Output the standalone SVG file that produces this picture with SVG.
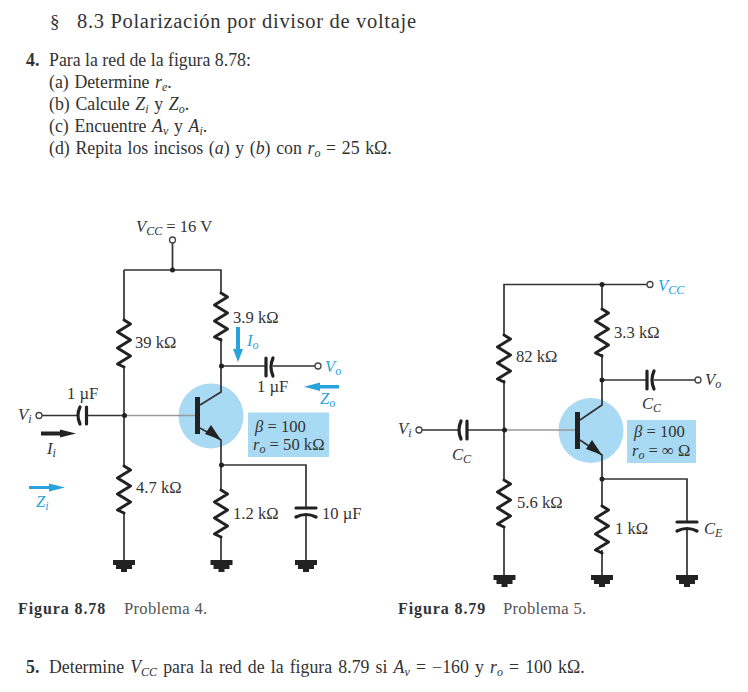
<svg xmlns="http://www.w3.org/2000/svg" xmlns:xlink="http://www.w3.org/1999/xlink" width="748" height="692" viewBox="0 0 748 692">
<style>
text{font-family:"Liberation Serif","Times New Roman",serif;font-size:17.8px;fill:#333}
.l{font-size:16.600px;fill:#333}
.m{word-spacing:1.2px}
.i{font-style:italic}
.b{font-weight:bold}
.c{fill:#29a3dc}
.s{font-size:12px}
.w{fill:none;stroke:#333;stroke-width:1.7}
.g{fill:none;stroke:#999;stroke-width:1.7}
.r{fill:none;stroke:#222;stroke-width:3;stroke-linejoin:round;stroke-linecap:round}
.p{fill:none;stroke:#222;stroke-width:3.200;stroke-linecap:round}
.d{fill:#222}
.t{fill:#fff;stroke:#444;stroke-width:1.3}
.h{fill:#a8daf4}
.ba{fill:#222}
.ca{fill:#29a3dc}
.f{font-size:16px;letter-spacing:.9px}
.k{font-size:16.600px;letter-spacing:.3px;fill:#555}
</style>
<defs>
<path id="res" class="r" d="M0 0l6.500 4-13 8 13 8-13 8 13 8-13 8 6.500 3"/>
<path id="gnd" class="d" d="M-11 0h22v5h-3v4h-5v3h-6v-3h-5v-4h-3z"/>
</defs>
<rect width="748" height="692" fill="#fff"/>

<g id="header">
<text x="50" y="28" style="font-size:19px">§</text>
<text x="77" y="28" style="font-size:20.500px" textLength="339">8.3 Polarización por divisor de voltaje</text>
<text x="26" y="66" class="b">4.</text>
<text x="49" y="66">Para la red de la figura 8.78:</text>
<text x="49" y="88" class="m">(a) Determine <tspan class="i">r<tspan class="s" dy="3">e</tspan></tspan><tspan dy="-3">.</tspan></text>
<text x="49" y="110" class="m">(b) Calcule <tspan class="i">Z<tspan class="s" dy="3">i</tspan></tspan><tspan dy="-3"> y </tspan><tspan class="i">Z<tspan class="s" dy="3">o</tspan></tspan><tspan dy="-3">.</tspan></text>
<text x="49" y="132" class="m">(c) Encuentre <tspan class="i">A<tspan class="s" dy="3">v</tspan></tspan><tspan dy="-3"> y </tspan><tspan class="i">A<tspan class="s" dy="3">i</tspan></tspan><tspan dy="-3">.</tspan></text>
<text x="49" y="154" class="m">(d) Repita los incisos (<tspan class="i">a</tspan>) y (<tspan class="i">b</tspan>) con <tspan class="i">r<tspan class="s" dy="3">o</tspan></tspan><tspan dy="-3"> = 25 kΩ.</tspan></text>
</g>

<g id="fig78-highlight">
<circle class="h" cx="211" cy="416" r="32.500"/>
<rect class="h" x="248" y="412.500" width="81" height="44.500"/>
</g>

<g id="connectors-78">
<path class="w" d="M172.500 243V270M124 270H221V292M124 270V319M124 366V465M124 512V560M221 338V392L200 405M200 428L221 440V489M221 536V560M221 465H306V508M306 516V560M221.500 366H265M273 366H315M42 415.500H78M87 415.500H124"/>
<path class="g" d="M124 415.500H195"/>
</g>

<g id="fig78-transistor">
<rect class="d" x="195" y="397" width="5" height="37"/>
<path class="d" d="M221 440L205 434 211 425z"/>
</g>

<g id="fig78-r39k"><use xlink:href="#res" href="#res" x="124" y="320"/><text class="l" x="135" y="348">39 kΩ</text></g>
<g id="fig78-r3k9"><use xlink:href="#res" href="#res" x="221" y="293"/><text class="l" x="233" y="323">3.9 kΩ</text></g>
<g id="fig78-r4k7"><use xlink:href="#res" href="#res" x="124" y="466"/><text class="l" x="136" y="493">4.7 kΩ</text></g>
<g id="fig78-r1k2"><use xlink:href="#res" href="#res" x="221" y="490"/><text class="l" x="233" y="519">1.2 kΩ</text></g>

<g id="fig78-c1">
<path class="p" d="M86.500 407V424M80 407Q76 415.500 80 424"/>
<text class="l" x="67" y="399">1 µF</text>
</g>
<g id="fig78-c2">
<path class="p" d="M266 358V376M273 358Q269 367 273 376"/>
<text class="l" x="257" y="392">1 µF</text>
</g>
<g id="fig78-c3">
<path class="p" d="M296 508H316M296 517Q306 512 316 517"/>
<text class="l" x="322" y="519">10 µF</text>
</g>

<g id="fig78-vcc">
<circle class="t" cx="172.500" cy="240" r="3"/>
<circle class="d" cx="172.500" cy="270" r="2.500"/>
<text class="l" x="136" y="232"><tspan class="i">V<tspan class="s" dy="3">CC</tspan></tspan><tspan dy="-3"> = 16 V</tspan></text>
</g>
<g id="fig78-nodes">
<circle class="d" cx="221.500" cy="366" r="2.500"/>
<circle class="d" cx="124.500" cy="415.500" r="2.500"/>
<circle class="d" cx="221.500" cy="465" r="2.500"/>
</g>
<g id="fig78-vi">
<circle class="t" cx="39" cy="415.500" r="3"/>
<text class="l i" x="18" y="420">V<tspan class="s" dy="3">i</tspan></text>
</g>
<g id="fig78-vo">
<circle class="t" cx="318" cy="366" r="3"/>
<text class="l i c" x="325" y="372">V<tspan class="s c" dy="3">o</tspan></text>
</g>
<g id="fig78-io">
<path class="ca" d="M236 327h4v22h3l-5 13-5-13h3z"/>
<text class="l i c" x="247" y="346">I<tspan class="s c" dy="3">o</tspan></text>
</g>
<g id="fig78-zo">
<path class="ca" d="M339 385v3.500H320v2.500l-16-4.200 16-4.300v2.500z"/>
<text class="l i c" x="320" y="404">Z<tspan class="s c" dy="3">o</tspan></text>
</g>
<g id="fig78-ii">
<path class="ba" d="M41 431.500h19v-2l16 4-16 4v-2h-19z"/>
<text class="l i" x="47" y="454">I<tspan class="s" dy="3">i</tspan></text>
</g>
<g id="fig78-zi">
<path class="ca" d="M29 486h20v-2.500l16 4-16 4v-2.500h-20z"/>
<text class="l i c" x="36" y="507">Z<tspan class="s c" dy="3">i</tspan></text>
</g>
<g id="fig78-params">
<text class="l" x="255" y="432"><tspan class="i">β</tspan> = 100</text>
<text class="l" x="253" y="450"><tspan class="i">r<tspan class="s" dy="3">o</tspan></tspan><tspan dy="-3"> = 50 kΩ</tspan></text>
</g>
<g id="fig78-grounds">
<use xlink:href="#gnd" href="#gnd" x="124" y="560"/>
<use xlink:href="#gnd" href="#gnd" x="221.500" y="560"/>
<use xlink:href="#gnd" href="#gnd" x="306" y="560"/>
</g>
<g id="fig78-caption">
<text x="18" y="614" class="b f">Figura 8.78</text>
<text x="124" y="614" class="k">Problema 4.</text>
</g>

<g id="fig79-highlight">
<circle class="h" cx="591" cy="430.500" r="32.500"/>
<rect class="h" x="627" y="420" width="69" height="43"/>
</g>

<g id="connectors-79">
<path class="w" d="M647 284.500H504V334M504 380V479M504 527V575M602 284.500V308M602 354V405L580 420M580 440L602 455V505M602 550V575M602 479H687V522M687 530V575M602 380H646M654 380H695M422 430H460M467 430H504"/>
<path class="g" d="M504 430H575"/>
</g>

<g id="fig79-transistor">
<rect class="d" x="575" y="412" width="5" height="37"/>
<path class="d" d="M602 455L586 449 592 440z"/>
</g>

<g id="fig79-r82k"><use xlink:href="#res" href="#res" x="504" y="335"/><text class="l" x="516" y="362">82 kΩ</text></g>
<g id="fig79-r3k3"><use xlink:href="#res" href="#res" x="602" y="309"/><text class="l" x="614" y="338">3.3 kΩ</text></g>
<g id="fig79-r5k6"><use xlink:href="#res" href="#res" x="504" y="480"/><text class="l" x="517" y="508">5.6 kΩ</text></g>
<g id="fig79-r1k"><use xlink:href="#res" href="#res" x="602" y="506"/><text class="l" x="615" y="534">1 kΩ</text></g>

<g id="fig79-c1">
<path class="p" d="M467 421V439M461 421Q457 430 461 439"/>
<text class="l i" x="452" y="460">C<tspan class="s" dy="3">C</tspan></text>
</g>
<g id="fig79-c2">
<path class="p" d="M647 371V389M654 371Q650 380 654 389"/>
<text class="l i" x="642" y="409">C<tspan class="s" dy="3">C</tspan></text>
</g>
<g id="fig79-c3">
<path class="p" d="M677 522H697M677 531Q687 526 697 531"/>
<text class="l i" x="704" y="534">C<tspan class="s" dy="3">E</tspan></text>
</g>

<g id="fig79-vcc">
<circle class="t" cx="650" cy="284.500" r="3"/>
<circle class="d" cx="602" cy="284.500" r="2.500"/>
<text class="l i c" x="658" y="291">V<tspan class="s c" dy="3">CC</tspan></text>
</g>
<g id="fig79-nodes">
<circle class="d" cx="602" cy="380" r="2.500"/>
<circle class="d" cx="504.500" cy="430" r="2.500"/>
<circle class="d" cx="602" cy="479" r="2.500"/>
</g>
<g id="fig79-vi">
<circle class="t" cx="419" cy="430" r="3"/>
<text class="l i" x="398" y="434">V<tspan class="s" dy="3">i</tspan></text>
</g>
<g id="fig79-vo">
<circle class="t" cx="698" cy="380" r="3"/>
<text class="l i" x="705" y="385">V<tspan class="s" dy="3">o</tspan></text>
</g>
<g id="fig79-params">
<text class="l" x="634" y="437"><tspan class="i">β</tspan> = 100</text>
<text class="l" x="632" y="456"><tspan class="i">r<tspan class="s" dy="3">o</tspan></tspan><tspan dy="-3"> = ∞ Ω</tspan></text>
</g>
<g id="fig79-grounds">
<use xlink:href="#gnd" href="#gnd" x="504.500" y="575"/>
<use xlink:href="#gnd" href="#gnd" x="602" y="575"/>
<use xlink:href="#gnd" href="#gnd" x="687" y="575"/>
</g>
<g id="fig79-caption">
<text x="398" y="614" class="b f">Figura 8.79</text>
<text x="503" y="614" class="k">Problema 5.</text>
</g>

<g id="footer">
<text x="26" y="673" class="b">5.</text>
<text x="49" y="673" style="word-spacing:1.700px">Determine <tspan class="i">V<tspan class="s" dy="3">CC</tspan></tspan><tspan dy="-3"> para la red de la figura 8.79 si </tspan><tspan class="i">A<tspan class="s" dy="3">v</tspan></tspan><tspan dy="-3"> = −160 y </tspan><tspan class="i">r<tspan class="s" dy="3">o</tspan></tspan><tspan dy="-3"> = 100 kΩ.</tspan></text>
</g>
</svg>
